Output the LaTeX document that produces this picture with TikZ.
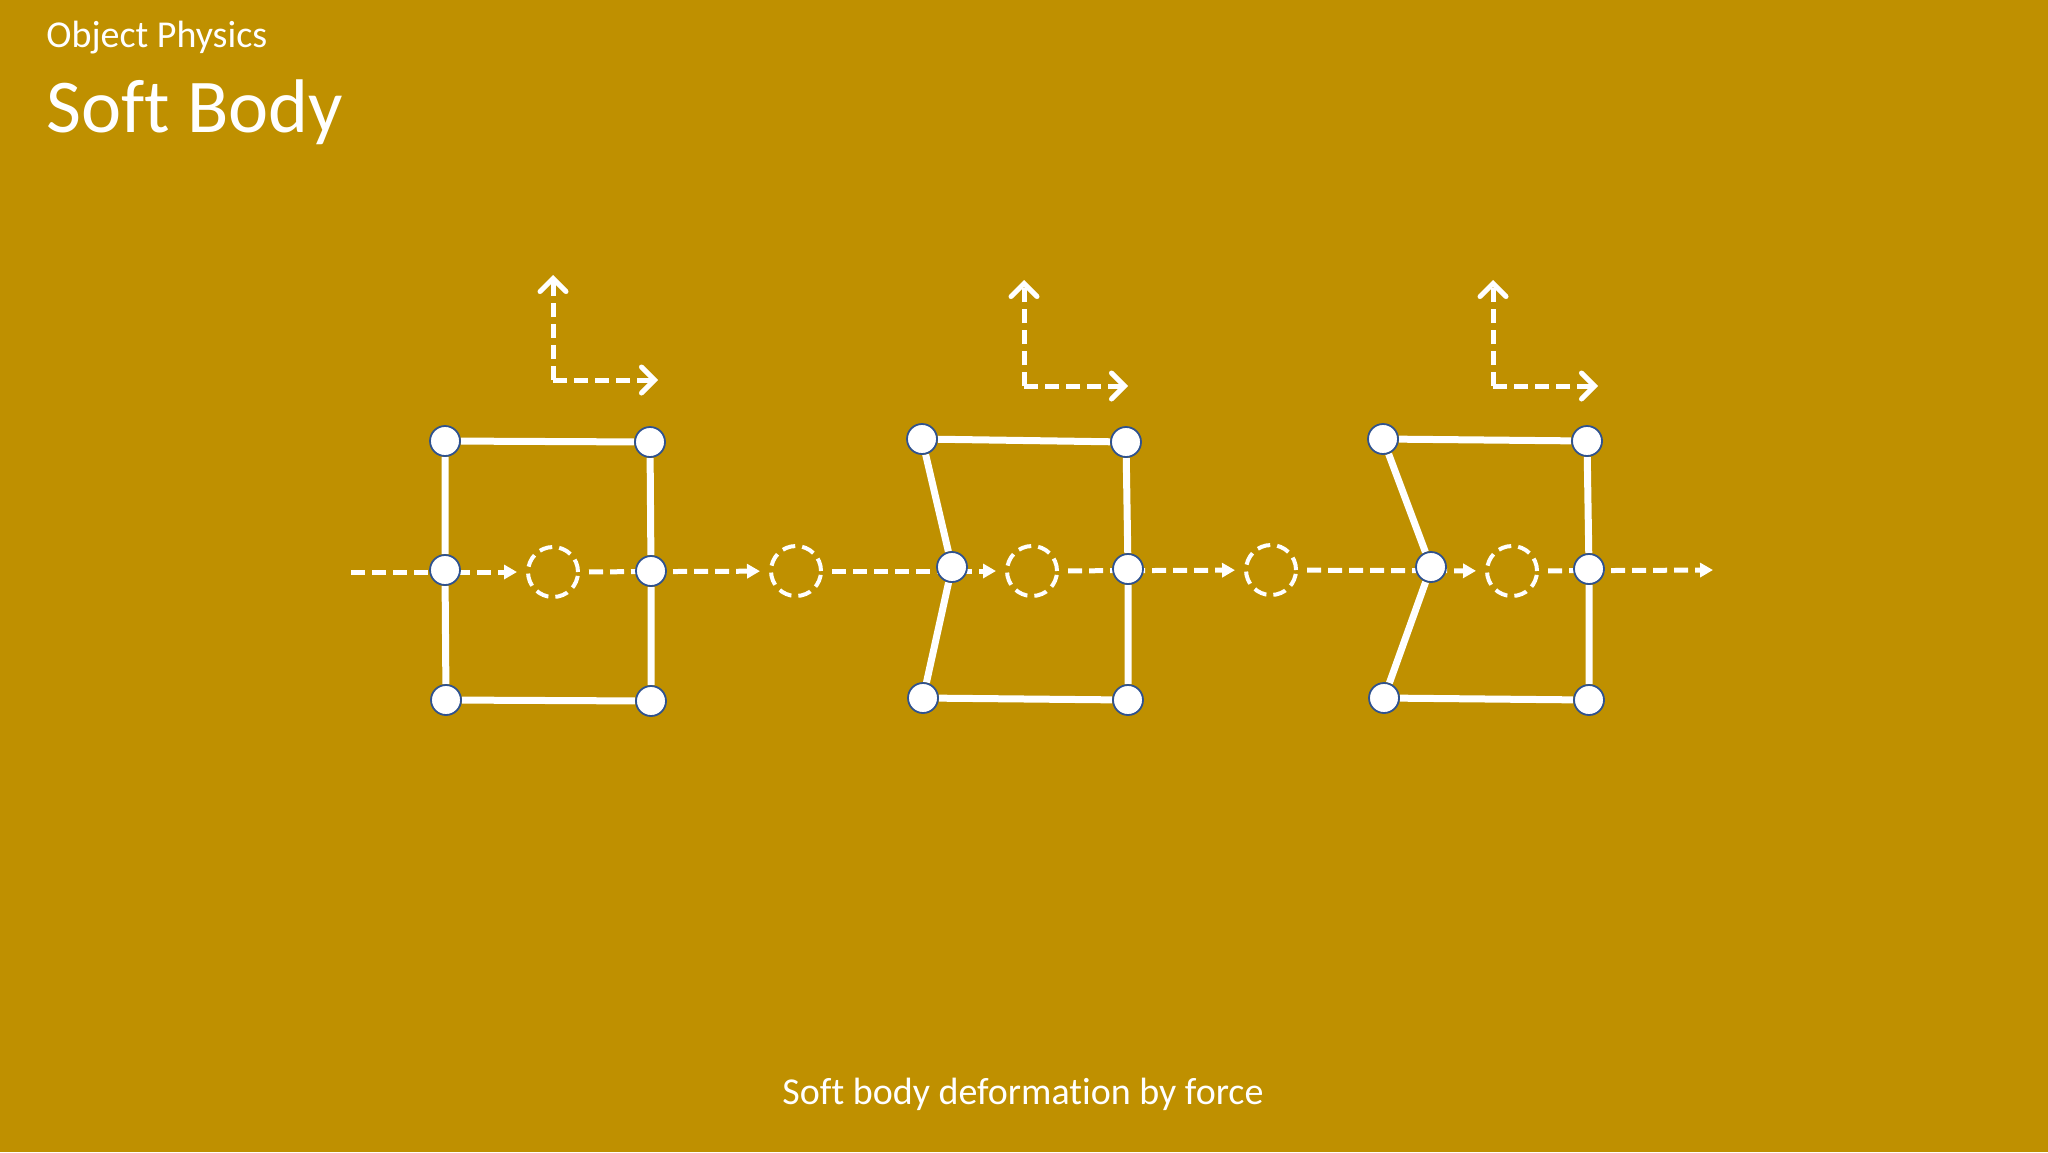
\documentclass[tikz,border=0pt]{standalone}
\usepackage{fontspec}
\setmainfont{Carlito}[Ligatures=CommonOff]
\usetikzlibrary{arrows.meta}
\definecolor{slidegold}{HTML}{BF9000}
\definecolor{nodeblue}{HTML}{2F528F}
\pgfdeclarelayer{paper}
\pgfdeclarelayer{lines}
\pgfsetlayers{paper,lines,main}

\begin{document}
\begin{tikzpicture}[x=0.5pt,y=-0.5pt]
		\tikzstyle{mass}=[circle,fill=white,draw=nodeblue,line width=0.9pt,minimum size=15pt,inner sep=0pt]
		\tikzstyle{ghost}=[circle,draw=white,line width=2pt,dash pattern=on 6.5pt off 3.5pt,minimum size=25pt,inner sep=0pt]
		\tikzstyle{spring}=[white,line width=3.5pt]
		\tikzstyle{force}=[white,line width=2.5pt,dash pattern=on 7pt off 3.5pt,-{Triangle[length=6.5pt,width=7pt]},shorten <=4.5pt,shorten >=4.5pt]
		\tikzstyle{axis}=[white,line width=2.5pt,dash pattern=on 7pt off 3.5pt,-{Straight Barb[length=6.5pt,width=13pt,line cap=round]}]
		\tikzstyle{label}=[text=white,inner sep=0pt]

		\node[label,anchor=base west,font=\fontsize{19pt}{23pt}\selectfont] (sub) at (46,47) {Object Physics};
		\node[label,anchor=base west,font=\fontsize{38pt}{45pt}\selectfont] (title) at (46,132) {Soft Body};
		\node[label,anchor=base,font=\fontsize{19pt}{23pt}\selectfont] (caption) at (1023,1104) {Soft body deformation by force};

		\node[mass] (tl1) at (445,441) {};
		\node[mass] (tr1) at (650,442) {};
		\node[mass] (ml1) at (445,570) {};
		\node[mass] (mr1) at (651,571) {};
		\node[mass] (bl1) at (446,700) {};
		\node[mass] (br1) at (651,701) {};
		\node[ghost] (g1) at (553,572) {};
		\coordinate (o1) at (553,380);

		\node[ghost] (gA) at (796,571) {};

		\node[mass] (tl2) at (922,439) {};
		\node[mass] (tr2) at (1126,442) {};
		\node[mass] (ml2) at (952,567) {};
		\node[mass] (mr2) at (1128,569) {};
		\node[mass] (bl2) at (923,698) {};
		\node[mass] (br2) at (1128,700) {};
		\node[ghost] (g2) at (1032,571) {};
		\coordinate (o2) at (1024,386);

		\node[ghost] (gB) at (1271,570) {};

		\node[mass] (tl3) at (1383,439) {};
		\node[mass] (tr3) at (1587,441) {};
		\node[mass] (ml3) at (1431,567) {};
		\node[mass] (mr3) at (1589,569) {};
		\node[mass] (bl3) at (1384,698) {};
		\node[mass] (br3) at (1589,700) {};
		\node[ghost] (g3) at (1512,571) {};
		\coordinate (o3) at (1493,386);

		\coordinate (start) at (351,572);
		\coordinate (end) at (1713,570);

		\begin{pgfonlayer}{lines}
			\draw[spring] (tl1) -- (tr1) (tl1) -- (ml1) -- (bl1) -- (br1) -- (mr1) -- (tr1);
			\draw[spring] (tl2) -- (tr2) (tl2) -- (ml2) -- (bl2) -- (br2) -- (mr2) -- (tr2);
			\draw[spring] (tl3) -- (tr3) (tl3) -- (ml3) -- (bl3) -- (br3) -- (mr3) -- (tr3);

			\draw[force,shorten <=0pt] (start) -- (g1);
			\draw[force] (g1) -- (gA);
			\draw[force] (gA) -- (g2);
			\draw[force] (g2) -- (gB);
			\draw[force] (gB) -- (g3);
			\draw[force,shorten >=0pt] (g3) -- (end);

			\draw[axis] (o1) -- ++(0,-105);
			\draw[axis] (o1) -- ++(105,0);
			\draw[axis] (o2) -- ++(0,-106);
			\draw[axis] (o2) -- ++(104,0);
			\draw[axis] (o3) -- ++(0,-106);
			\draw[axis] (o3) -- ++(105,0);
		\end{pgfonlayer}

		\begin{pgfonlayer}{paper}
			\fill[slidegold] (0,0) rectangle (2048,1152);
		\end{pgfonlayer}
	\end{tikzpicture}
\end{document}
